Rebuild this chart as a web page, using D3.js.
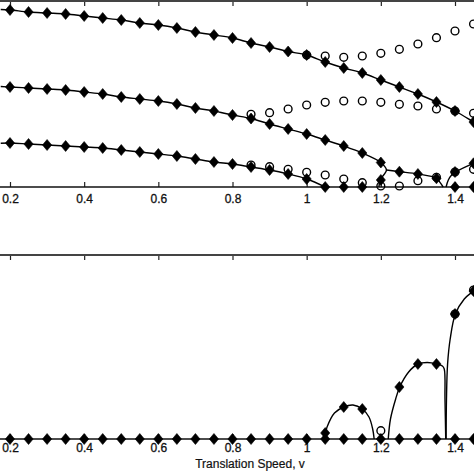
<!DOCTYPE html>
<html>

<head>
    <meta charset="utf-8">
    <title>translation speed</title>
    <script src="https://cdn.jsdelivr.net/npm/d3@7/dist/d3.min.js" charset="utf-8"></script>
    <style>
        html,
        body {
            width: 474px;
            height: 474px;
            padding: 0;
            margin: 0;
            background: #fff;
        }

        svg.main {
            width: 474px;
            height: 474px;
            display: block;
        }

        .tick text {
            font-family: "Liberation Sans", Arial, sans-serif;
            font-size: 12px;
            fill: #111;
            stroke: #111;
            stroke-width: 0.3px;
        }
    </style>
</head>

<body>
    <svg class="main"></svg>
</body>

<script>
    // speeds where markers sit
    var speeds = [0.2, 0.25, 0.3, 0.35, 0.4, 0.45, 0.5, 0.55, 0.6, 0.65, 0.7, 0.75, 0.8, 0.85,
        0.9, 0.95, 1.0, 1.05, 1.1, 1.15, 1.2, 1.25, 1.3, 1.35, 1.4, 1.45];
    var tickVals = [0.2, 0.4, 0.6, 0.8, 1, 1.2, 1.4];

    // top panel, diamonds
    var top1 = [1.77, 1.75, 1.74, 1.73, 1.71, 1.69, 1.67, 1.64, 1.62, 1.59, 1.55, 1.52, 1.49, 1.44,
        1.40, 1.355, 1.32, 1.25, 1.19, 1.14, 1.07, 1.00, 0.93, 0.85, 0.76, 0.65];
    var top2Speeds = speeds.slice(0, 21);
    var top2 = [1.00, 0.99, 0.98, 0.97, 0.95, 0.93, 0.90, 0.88, 0.86, 0.83, 0.79, 0.76, 0.72, 0.685,
        0.63, 0.58, 0.53, 0.47, 0.41, 0.34, 0.245];
    var top3Speeds = speeds.slice(0, 17);
    var top3 = [0.44, 0.43, 0.42, 0.41, 0.40, 0.39, 0.37, 0.35, 0.33, 0.31, 0.28, 0.25, 0.23, 0.20,
        0.17, 0.13, 0.08];
    var topZeroSpeeds = [1.05, 1.1, 1.15, 1.4, 1.45];
    var topMergedSpeeds = [1.2, 1.25, 1.3, 1.35, 1.4, 1.45];
    var topMerged = [0.07, 0.153, 0.13, 0.087, 0.15, 0.237];

    // top panel, open circles
    var circASpeeds = [1.0, 1.05, 1.1, 1.15, 1.2, 1.25, 1.3, 1.35, 1.4, 1.45];
    var circA = [1.32, 1.31, 1.297, 1.31, 1.337, 1.377, 1.43, 1.493, 1.56, 1.63];
    var circBSpeeds = [0.85, 0.9, 0.95, 1.0, 1.05, 1.1, 1.15, 1.2, 1.25, 1.3, 1.35, 1.4, 1.45];
    var circB = [0.727, 0.743, 0.78, 0.82, 0.847, 0.86, 0.86, 0.847, 0.827, 0.81, 0.78, 0.76, 0.737];
    var circC = [0.22, 0.203, 0.177, 0.147, 0.12, 0.08, 0.043, 0.01, 0.01, 0.063, 0.097, 0.15, 0.177];

    // top panel, solid lines (speed, value)
    var lineA = { v: [0.175].concat(speeds, [1.455]), y: [1.775].concat(top1, [0.64]) };
    var lineB = { v: [0.175].concat(top2Speeds, [1.215, 1.198, 1.195]), y: [1.005].concat(top2, [0.17, 0.07, 0]) };
    var lineC = { v: [0.175].concat(top3Speeds, [1.05]), y: [0.437].concat(top3, [0]) };
    var lineD = { v: [1.215, 1.25, 1.3, 1.35, 1.36, 1.368], y: [0.17, 0.153, 0.13, 0.087, 0.043, 0] };
    var lineE = { v: [1.376, 1.382, 1.391, 1.403, 1.45, 1.456], y: [0, 0.07, 0.12, 0.153, 0.237, 0.245] };

    // bottom panel
    var botZero = [0, 0, 0, 0, 0, 0, 0, 0, 0, 0, 0, 0, 0, 0, 0, 0, 0, 0, 0, 0, 0, 0, 0, 0, 0, 0];
    var botSpeeds = [1.05, 1.1, 1.15, 1.25, 1.3, 1.35, 1.4, 1.45];
    var botVals = [0.06, 0.32, 0.30, 0.52, 0.75, 0.75, 1.25, 1.48];
    var botCircSpeeds = [1.2, 1.4, 1.45];
    var botCirc = [0.083, 1.25, 1.49];
    var hump1 = { v: [1.047, 1.055, 1.075, 1.1, 1.125, 1.15, 1.168, 1.178, 1.182], y: [0.01, 0.12, 0.26, 0.32, 0.34, 0.30, 0.22, 0.10, 0] };
    var hump2 = { v: [1.22, 1.226, 1.24, 1.251, 1.275, 1.3, 1.325, 1.351, 1.366, 1.371, 1.373, 1.375], y: [0, 0.2, 0.40, 0.52, 0.67, 0.75, 0.765, 0.75, 0.73, 0.70, 0.4, 0] };
    var hump3 = { v: [1.376, 1.377, 1.38, 1.387, 1.401, 1.425, 1.45, 1.456], y: [0, 0.4, 0.75, 1.0, 1.25, 1.40, 1.48, 1.50] };

    var svg = d3.select("svg");
    var W = 474;

    var x = d3.scaleLinear().domain([0.2, 1.4]).range([10, 455]);
    var yTop = d3.scaleLinear().domain([0, 1.87]).range([187, 0]);
    var yBot = d3.scaleLinear().domain([0, 1.84]).range([439, 255]);

    function zip(s) {
        return s.v.map(function (v, i) { return [v, s.y[i]]; });
    }

    function diamond(g, xs, ys, yScale) {
        g.selectAll(null)
            .data(xs.map(function (v, i) { return [v, ys[i]]; }))
            .enter()
            .append("path")
            .attr("d", "M0,-5.5L4.6,0L0,5.5L-4.6,0Z")
            .attr("fill", "#000")
            .attr("stroke", "#000")
            .attr("stroke-width", 0.6)
            .attr("transform", function (d) {
                return "translate(" + x(d[0]) + "," + yScale(d[1]) + ")";
            });
    }

    function circles(g, xs, ys, yScale) {
        g.selectAll(null)
            .data(xs.map(function (v, i) { return [v, ys[i]]; }))
            .enter()
            .append("circle")
            .attr("cx", function (d) { return x(d[0]); })
            .attr("cy", function (d) { return yScale(d[1]); })
            .attr("r", 3.9)
            .attr("fill", "none")
            .attr("stroke", "#000")
            .attr("stroke-width", 1.4);
    }

    function drawLines(g, list, yScale) {
        var line = d3.line()
            .x(function (d) { return x(d[0]); })
            .y(function (d) { return yScale(d[1]); })
            .curve(d3.curveCatmullRom.alpha(0.5));
        list.forEach(function (s) {
            g.append("path")
                .datum(zip(s))
                .attr("fill", "none")
                .attr("stroke", "#000")
                .attr("stroke-width", 1.4)
                .attr("d", line);
        });
    }

    // 坐标轴: 刻度朝内, 整幅宽的轴线
    function axisAt(y, padding, labels, down) {
        var ax = (down ? d3.axisTop(x) : d3.axisBottom(x))
            .tickValues(tickVals)
            .tickSize(-5)
            .tickSizeOuter(0)
            .tickPadding(padding)
            .tickFormat(function (d) { return labels ? String(d) : ""; });
        var g = svg.append("g")
            .attr("transform", "translate(0," + y + ")")
            .call(ax);
        g.select(".domain").remove();
        g.selectAll(".tick line").attr("stroke", "#222").attr("stroke-width", 1.2);
        g.append("line")
            .attr("x1", 0).attr("x2", W)
            .attr("stroke", down ? "#444" : "#111")
            .attr("stroke-width", down ? 2 : 1.6);
    }

    axisAt(1, 0, false, true);
    axisAt(187, 7, true, false);
    axisAt(255, 0, false, true);
    axisAt(439, 4, true, false);

    // top panel
    var gTop = svg.append("g");
    drawLines(gTop, [lineA, lineB, lineC, lineD, lineE], yTop);
    diamond(gTop, speeds, top1, yTop);
    diamond(gTop, top2Speeds, top2, yTop);
    diamond(gTop, top3Speeds, top3, yTop);
    diamond(gTop, topZeroSpeeds, [0, 0, 0, 0, 0], yTop);
    diamond(gTop, topMergedSpeeds, topMerged, yTop);
    circles(gTop, circASpeeds, circA, yTop);
    circles(gTop, circBSpeeds, circB, yTop);
    circles(gTop, circBSpeeds, circC, yTop);

    // bottom panel
    var gBot = svg.append("g");
    drawLines(gBot, [hump1, hump2, hump3], yBot);
    diamond(gBot, speeds, botZero, yBot);
    diamond(gBot, botSpeeds, botVals, yBot);
    circles(gBot, botCircSpeeds, botCirc, yBot);

    svg.append("text")
        .attr("x", 250)
        .attr("y", 468)
        .attr("text-anchor", "middle")
        .style("font-family", "'Liberation Sans', Arial, sans-serif")
        .style("font-size", "12px")
        .style("fill", "#111")
        .style("stroke", "#111")
        .style("stroke-width", "0.2px")
        .text("Translation Speed, v");
</script>

</html>
